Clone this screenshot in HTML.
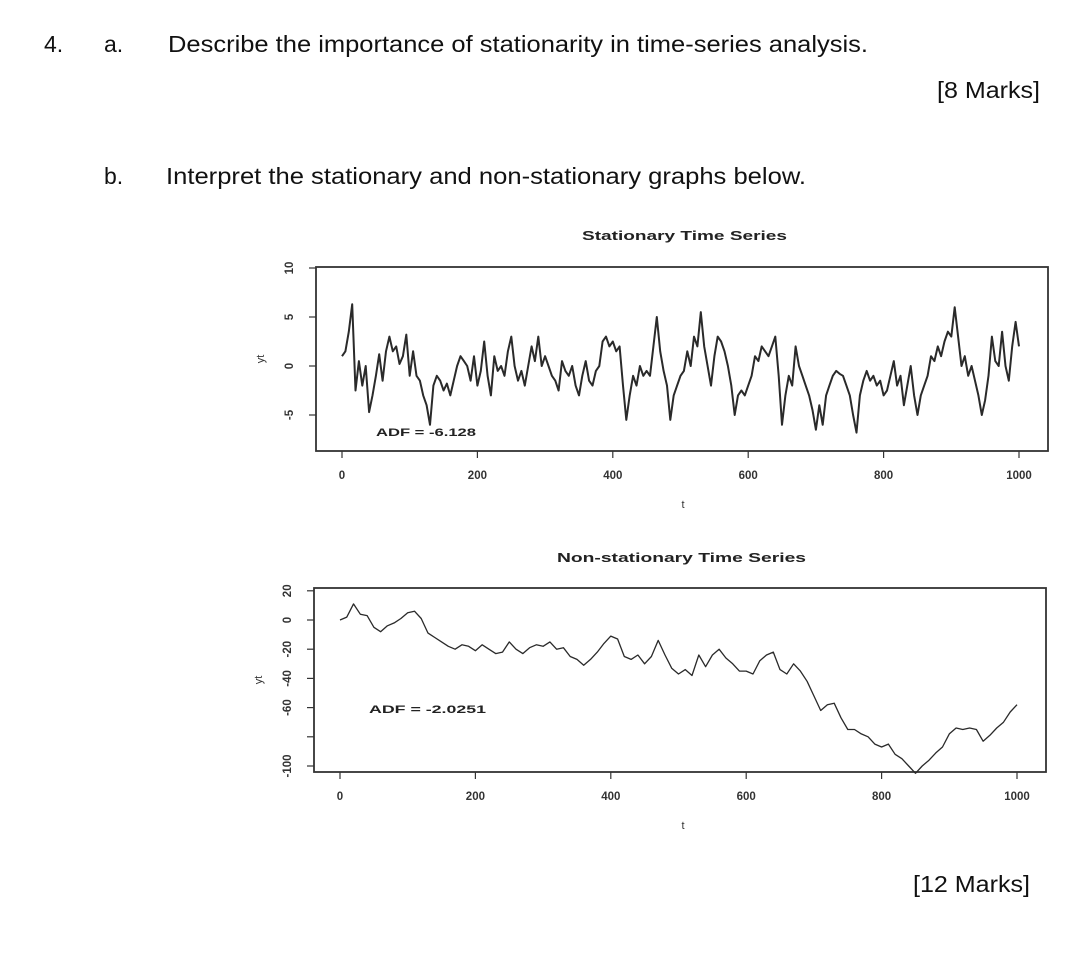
<!DOCTYPE html>
<html><head><meta charset="utf-8"><style>
body{margin:0;background:#fff;width:1078px;height:977px;overflow:hidden;font-family:"Liberation Sans",Arial,sans-serif;}
svg{display:block}
</style></head><body>
<svg width="1078" height="977" font-family="Liberation Sans, Arial, sans-serif">
<g fill="#111" font-size="23" lengthAdjust="spacingAndGlyphs">
<text x="44" y="52">4.</text>
<text x="104" y="52">a.</text>
<text x="168" y="52" textLength="700" lengthAdjust="spacingAndGlyphs">Describe the importance of stationarity in time-series analysis.</text>
<text x="937" y="98" textLength="103" lengthAdjust="spacingAndGlyphs">[8 Marks]</text>
<text x="104" y="184">b.</text>
<text x="166" y="184" textLength="640" lengthAdjust="spacingAndGlyphs">Interpret the stationary and non-stationary graphs below.</text>
<text x="913" y="892" textLength="117" lengthAdjust="spacingAndGlyphs">[12 Marks]</text>
</g>
<g id="c1"></g>
<g id="c2"></g>
</svg>
<script>
const stY=[1,1.5,3.5,6.3,-2.5,0.5,-2,0,-4.7,-3,-1,1.2,-1.5,1.5,3,1.5,2,0.2,1,3.2,-1,1.5,-1,-1.5,-3,-4,-6,-2,-1,-1.5,-2.5,-1.8,-3,-1.5,0,1,0.5,0,-1.5,1,-2,-0.5,2.5,-1,-3,1,-0.5,0,-1,1.5,3,0,-1.5,-0.5,-2,0,2,0.5,3,0,1,0,-1,-1.5,-2.5,0.5,-0.5,-1,0,-2,-3,-1,0.5,-1.5,-2,-0.5,0,2.5,3,2,2.5,1.5,2,-2,-5.5,-3,-1,-2,0,-1,-0.5,-1,2,5,1.5,-0.5,-2,-5.5,-3,-2,-1,-0.5,1.5,0,3,2,5.5,2,0,-2,1,3,2.5,1.5,0,-2,-5,-3,-2.5,-3,-2,-1,1,0.5,2,1.5,1,2,3,-1,-6,-3,-1,-2,2,0,-1,-2,-3,-4.5,-6.5,-4,-6,-3,-2,-1,-0.5,-0.8,-1,-2,-3,-5,-6.8,-3,-1.5,-0.5,-1.5,-1,-2,-1.5,-3,-2.5,-1,0.5,-2,-1,-4,-2,0,-3,-5,-3,-2,-1,1,0.5,2,1,2.5,3.5,3,6,3,0,1,-1,0,-1.5,-3,-5,-3.5,-1,3,0.5,0,3.5,0,-1.5,2,4.5,2];
const stStep=5;
const stXTicks=[0,200,400,600,800,1000];
const stYTicks=[-5,0,5,10];
const nsY=[0,2,11,4,3,-5,-8,-4,-2,1,5,6,1,-9,-12,-15,-18,-20,-17,-18,-21,-17,-20,-23,-22,-15,-20,-23,-19,-17,-18,-15,-20,-19,-25,-27,-31,-27,-22,-16,-11,-13,-25,-27,-24,-30,-25,-14,-24,-33,-37,-34,-38,-24,-32,-24,-20,-26,-30,-35,-35,-37,-28,-24,-22,-34,-37,-30,-35,-42,-52,-62,-58,-57,-67,-75,-75,-78,-80,-85,-87,-85,-92,-95,-100,-105,-100,-96,-91,-87,-78,-74,-75,-74,-75,-83,-79,-74,-70,-63,-58];
const nsStep=10;
const nsXTicks=[0,200,400,600,800,1000];
const nsYTicks=[-100,-80,-60,-40,-20,0,20];
const nsYLabels=["-100","","-60","-40","-20","0","20"];

const NS="http://www.w3.org/2000/svg";
function mk(p,tag,attrs){const e=document.createElementNS(NS,tag);for(const k in attrs)e.setAttribute(k,attrs[k]);p.appendChild(e);return e;}
function draw(g,cfg){
  const sx=v=>cfg.x0+(v-0)*(cfg.x1-cfg.x0)/1000;
  const sy=v=>cfg.yA+(v-cfg.vA)*(cfg.yB-cfg.yA)/(cfg.vB-cfg.vA);
  const t=mk(g,'text',{x:cfg.titleX,y:cfg.titleY,'font-size':13,'font-weight':'bold',fill:'#222',textLength:cfg.titleW,lengthAdjust:'spacingAndGlyphs'});
  t.textContent=cfg.title;
  
  
  const box=mk(g,'rect',{x:cfg.bx0,y:cfg.by0,width:cfg.bx1-cfg.bx0,height:cfg.by1-cfg.by0,fill:'none',stroke:'#333','stroke-width':1.8});
  
  
  cfg.xt.forEach(v=>{
    const l=mk(g,'line',{x1:sx(v),x2:sx(v),y1:cfg.by1,y2:cfg.by1+7,stroke:'#333','stroke-width':1.2});
    
    
    const tx=mk(g,'text',{x:sx(v),y:cfg.by1+28,'text-anchor':'middle','font-size':11.5,'font-weight':'bold',fill:'#333'});
    tx.textContent=v;
    
    
  });
  cfg.yt.forEach((v,i)=>{
    const l=mk(g,'line',{x1:cfg.bx0,x2:cfg.bx0-7,y1:sy(v),y2:sy(v),stroke:'#333','stroke-width':1.2});
    
    
    const lab=cfg.yl?cfg.yl[i]:String(v);
    const tx=mk(g,'text',{x:cfg.bx0-23,y:sy(v),'text-anchor':'middle','font-size':11.5,'font-weight':'bold',fill:'#333',transform:`rotate(-90 ${cfg.bx0-23} ${sy(v)})`});
    tx.textContent=lab;
    
    
  });
  const xl=mk(g,'text',{x:683,y:cfg.by1+57,'text-anchor':'middle','font-size':11,fill:'#333'});
  xl.textContent='t';
  
  
  const yl=mk(g,'text',{x:cfg.bx0-52,y:(cfg.by0+cfg.by1)/2,'text-anchor':'middle','font-size':11,fill:'#333',transform:`rotate(-90 ${cfg.bx0-52} ${(cfg.by0+cfg.by1)/2})`});
  yl.textContent='yt';
  
  
  const d=cfg.data.map((v,i)=>(i?'L':'M')+sx(i*cfg.step).toFixed(1)+','+sy(v).toFixed(1)).join('');
  const p=mk(g,'path',{d:d,fill:'none',stroke:'#2a2a2a','stroke-width':cfg.sw,'stroke-linejoin':'round'});
  
  
  const a=mk(g,'text',{x:cfg.adfX,y:cfg.adfY,'font-size':11,'font-weight':'bold',fill:'#222',textLength:cfg.adfW,lengthAdjust:'spacingAndGlyphs'});
  a.textContent=cfg.adf;
  
  
}
draw(document.getElementById('c1'),{title:'Stationary Time Series',titleX:582,titleW:205,titleY:240,bx0:316,bx1:1048,by0:267,by1:451,x0:342,x1:1019,yA:366,vA:0,yB:317,vB:5,xt:stXTicks,yt:stYTicks,data:stY,step:stStep,sw:2,adf:'ADF = -6.128',adfX:376,adfY:436,adfW:100});
draw(document.getElementById('c2'),{title:'Non-stationary Time Series',titleX:557,titleW:249,titleY:562,bx0:314,bx1:1046,by0:588,by1:772,x0:340,x1:1017,yA:620,vA:0,yB:766,vB:-100,xt:nsXTicks,yt:nsYTicks,yl:nsYLabels,data:nsY,step:nsStep,sw:1.3,adf:'ADF = -2.0251',adfX:369,adfY:713,adfW:117});
</script>
</body></html>
